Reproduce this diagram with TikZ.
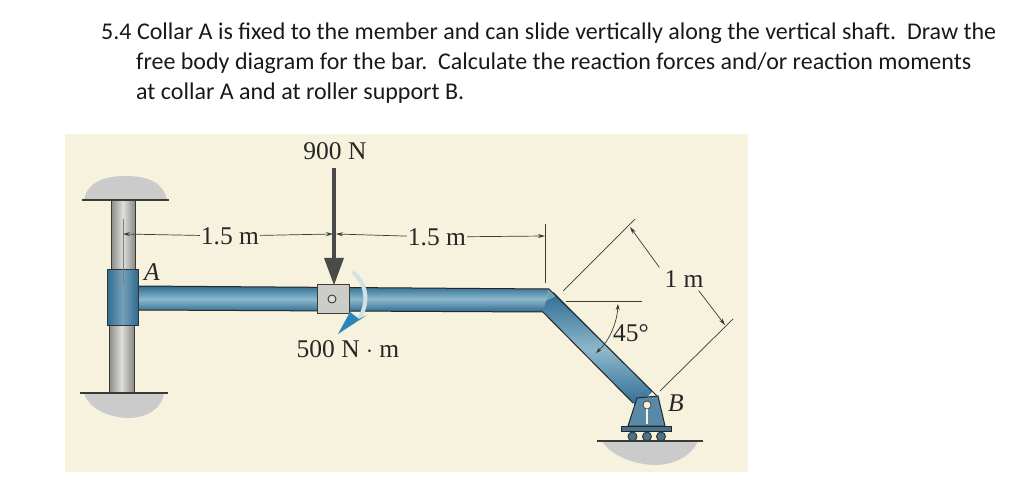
\documentclass[tikz,border=0pt]{standalone}
\usepackage{fontspec}
\setmainfont{Liberation Serif}
\newfontfamily\bodyfont{Carlito}
\usetikzlibrary{positioning,arrows.meta}

\definecolor{paper}{HTML}{F6F2DD}
\definecolor{blobgray}{HTML}{CBCBCB}
\definecolor{shaftgray}{HTML}{C4C4BE}
\definecolor{bardark}{HTML}{2E6C92}
\definecolor{barlight}{HTML}{8DB8CC}
\definecolor{inkline}{HTML}{3A3A36}
\definecolor{forcegray}{HTML}{4A4A48}
\definecolor{momentblue}{HTML}{2C86B8}
\definecolor{momentpale}{HTML}{CFE2E6}

\tikzset{
  task/.style={anchor=base west,inner sep=0pt,font=\bodyfont\fontsize{24}{26}\selectfont,text=black!90},
  figlabel/.style={inner sep=1pt,font=\fontsize{25.5}{27}\selectfont,text=black!85},
  dimline/.style={draw=inkline,line width=0.7pt},
  dimarrow/.style={dimline,-{Stealth[length=7pt,width=4pt]}},
  edgeline/.style={draw=black!85,line width=1pt},
  groundline/.style={draw=inkline,line width=1.2pt},
  blob/.style={fill=blobgray,draw=none},
  shaftpart/.style={left color=shaftgray!70!black,right color=shaftgray!70!black,middle color=shaftgray!55!white,draw=inkline,line width=1pt},
  barpart/.style={top color=bardark,bottom color=bardark,middle color=barlight},
  roller/.style={circle,minimum size=9pt,inner sep=0pt,fill=bardark!70!gray,draw=black!80,line width=0.9pt}
}

\begin{document}
\begin{tikzpicture}[x=1pt,y=-1pt,>=stealth]
\useasboundingbox (0,0) rectangle (1024,502);
% problem statement
\node[task] (line1) at (101,40) {5.4 Collar A is fixed to the member and can slide vertically along the vertical shaft.\ \ Draw the};
\node[task] (line2) at (136,70) {free body diagram for the bar.\ \ Calculate the reaction forces and/or reaction moments};
\node[task] (line3) at (136,100) {at collar A and at roller support B.};

% page of the book
\fill[paper] (65,134) rectangle (748,472);

% ground patches
\fill[blob] (84,200) .. controls (88,180) and (108,176) .. (125,176) .. controls (150,176) and (164,184) .. (167,200) -- cycle;
\fill[blob] (84,393) .. controls (90,412) and (115,418) .. (128,418) .. controls (148,418) and (162,408) .. (164,393) -- cycle;
\fill[blob] (602,441) .. controls (612,458) and (640,465) .. (655,465) .. controls (675,465) and (692,455) .. (698,441) -- cycle;

% vertical shaft
\draw[shaftpart] (111,200) rectangle (135,270);
\draw[shaftpart] (109,325) rectangle (134,393);
\draw[groundline] (82,200) -- (169,200);
\draw[groundline] (80,393) -- (168,393);

% bent bar
\node[barpart,rotate=-45,minimum width=140pt,minimum height=22pt,inner sep=0pt] (barC) at (595.5,349.5) {};
\path[barpart] (138,286) -- (549,289) -- (543,312) -- (138,310) -- cycle;
\fill[barlight!70!bardark] (549,289) -- (556,296) -- (546,301) -- cycle;
\draw[edgeline] (138,286) -- (549,289) -- (657,396);
\draw[edgeline] (138,310) -- (543,312) -- (633,403);

% collar A
\draw[draw=black!80,line width=1pt,left color=bardark,right color=bardark,middle color=bardark!65!white] (107,270) rectangle (138,325);

% slider with the force and the couple
\draw[draw=inkline,line width=1pt,fill=shaftgray!85!white] (317,285) rectangle (349,313);
\node[circle,minimum size=8pt,inner sep=0pt,draw=inkline,line width=0.9pt,fill=shaftgray!60!white] (pinS) at (332,299) {};
\coordinate (forceT) at (334,168);
\coordinate (forceB) at (334,285);
\draw[forcegray,line width=4pt] (forceT) -- (334,260);
\fill[forcegray] (324,258) -- (344,258) -- (forceB) -- cycle;
\draw[momentpale,line width=4pt] (353,272) .. controls (368,285) and (369,305) .. (358,320);
\fill[momentblue] (338,334) -- (350,312) -- (359,319) -- (367,315) -- cycle;

% bracket and rollers at B
\draw[draw=black!85,line width=1pt,fill=bardark!80!white] (637,398) -- (658,396) -- (665,426) -- (628,426) -- cycle;
\node[circle,minimum size=8pt,inner sep=0pt,fill=paper,draw=black!70,line width=0.8pt] (pinB) at (647,405) {};
\draw[paper,line width=1.2pt] (pinB.south) -- (647,424);
\draw[draw=black!85,line width=0.9pt,fill=bardark!70!gray] (621,426) rectangle (671,431);
\node[roller] (rollA) at (632.5,436.5) {};
\node[roller] (rollB) at (647,436.5) {};
\node[roller] (rollC) at (661,436.5) {};
\draw[groundline] (597,441) -- (703,441);

% labels
\node[figlabel] (forceLab) at (335,151) {900 N};
\node[figlabel] (momentLab) at (348,349) {500 N $\cdot$ m};
\node[figlabel] (labA) at (152,272) {\textit{A}};
\node[figlabel] (labB) at (676,403) {\textit{B}};
\node[figlabel] (angleLab) at (631,333) {45\textdegree};
\node[figlabel] (lenL) at (230,236) {1.5 m};
\node[figlabel] (lenR) at (437,237) {1.5 m};
\node[figlabel] (lenD) at (684,279) {1 m};

% horizontal dimensions
\coordinate (tickL) at (123,234);
\coordinate (tickM) at (333,234);
\coordinate (tickN) at (336,234);
\coordinate (tickR) at (545,236);
\draw[gray,line width=0.7pt] (123,219) -- (123,285);
\draw[dimline] (545,224) -- (545,283);
\draw[dimarrow] (lenL) -- (tickL);
\draw[dimarrow] (lenL) -- (tickM);
\draw[dimarrow] (lenR) -- (tickN);
\draw[dimarrow] (lenR) -- (tickR);

% slanted dimension
\draw[dimline] (563,291) -- (635,219);
\draw[dimline] (660,391) -- (733,319);
\coordinate (tipU) at (630,227);
\coordinate (tipD) at (725,325);
\draw[dimarrow] (lenD.north west) ++(-4,-2) -- (tipU);
\draw[dimarrow] (lenD.south east) ++(-6,2) -- (tipD);

% angle
\draw[dimline] (566,301) -- (642,301);
\draw[dimline,{Stealth[length=6pt,width=4pt]}-{Stealth[length=6pt,width=4pt]}] (596,353) .. controls (610,340) and (617,322) .. (618,304);
\end{tikzpicture}
\end{document}
